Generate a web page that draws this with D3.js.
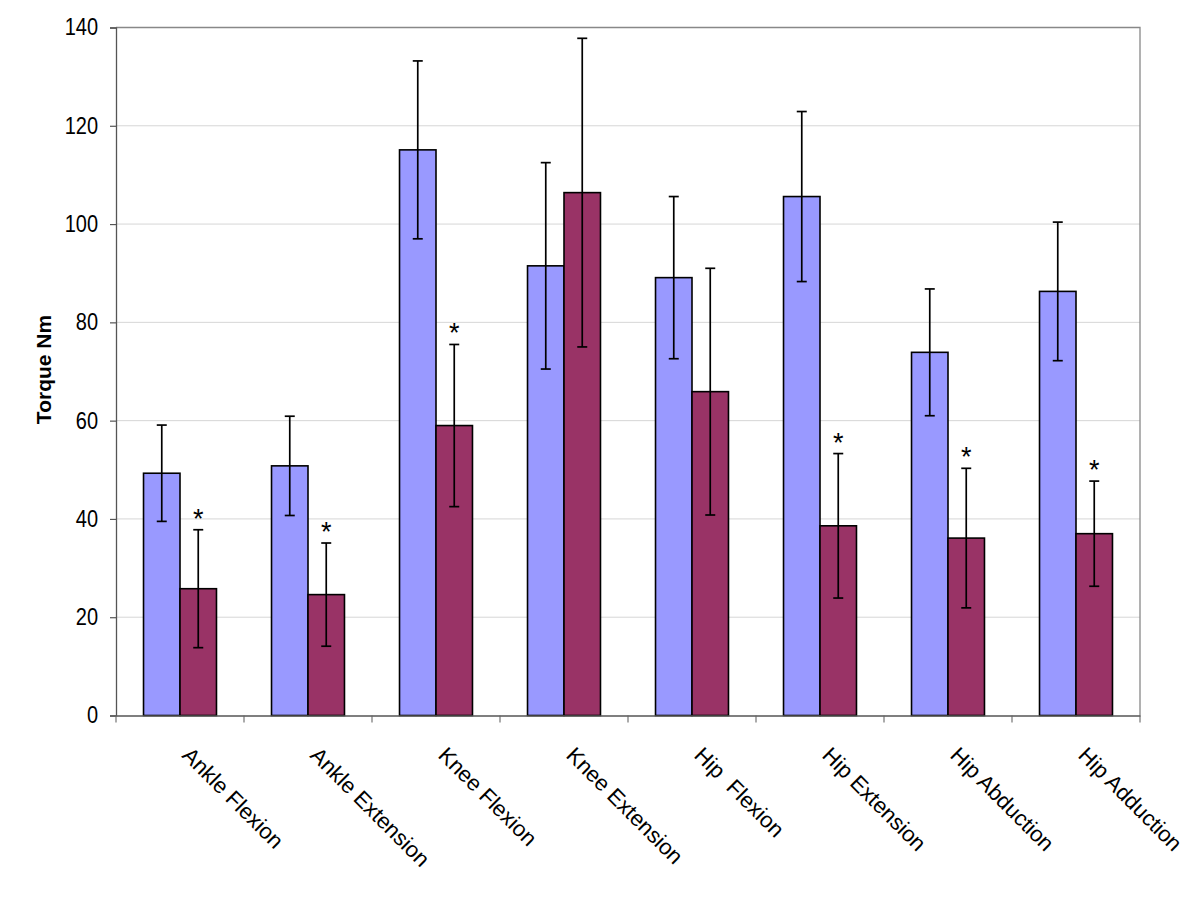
<!DOCTYPE html>
<html lang="en">
<head>
    <meta charset="UTF-8">
    <title>Torque Nm</title>
    <style>
        body { margin: 0; background: #fff; }
        text { font-family: Arial, "Liberation Sans", sans-serif; fill: #000; }
    </style>
    <script src="https://d3js.org/d3.v7.min.js"></script>
</head>
<body>
    <svg width="1200" height="900"></svg>
    <script>
        // values
        const categories = ["Ankle Flexion", "Ankle Extension", "Knee Flexion", "Knee Extension",
                            "Hip  Flexion", "Hip Extension", "Hip Abduction", "Hip Adduction"];
        const series = ["control", "patient"];
        const controlMean = [49.3, 50.8, 115.1, 91.5, 89.1, 105.6, 73.9, 86.3];
        const controlSD   = [9.8, 10.1, 18.1, 21.0, 16.5, 17.3, 12.9, 14.1];
        const patientMean = [25.8, 24.6, 59.0, 106.4, 65.9, 38.6, 36.1, 37.0];
        const patientSD   = [12.0, 10.5, 16.5, 31.4, 25.1, 14.7, 14.2, 10.7];
        const significant = [true, true, true, false, false, true, true, true];
        const yTicks = [0, 20, 40, 60, 80, 100, 120, 140];

        const colors = { control: "#9999ff", patient: "#993366" };

        const svg = d3.select("svg");
        const plotLeft = 116, plotRight = 1140, plotTop = 27.5, plotBottom = 715.5;

        const x0 = d3.scaleBand().domain(categories).range([plotLeft, plotRight]);
        const bw = x0.bandwidth();
        const x1 = d3.scaleBand().domain(series).range([bw * 0.215, bw * 0.785]);
        const y = d3.scaleLinear().domain([0, 140]).range([plotBottom, plotTop]);

        // gridlines
        svg.append("g")
            .selectAll("line")
            .data(yTicks.filter(d => d > 0 && d < 140))
            .enter()
            .append("line")
            .attr("x1", plotLeft).attr("x2", plotRight)
            .attr("y1", d => y(d)).attr("y2", d => y(d))
            .attr("stroke", "#d6d6d6")
            .attr("stroke-width", 1);

        // plot area border (top & right)
        svg.append("path")
            .attr("d", `M${plotLeft},${plotTop}H${plotRight}V${plotBottom}`)
            .attr("fill", "none")
            .attr("stroke", "#888")
            .attr("stroke-width", 1.3);

        // rows of bar data
        const rows = categories.map((c, i) => ({
            cat: c,
            sig: significant[i],
            bars: [
                { key: "control", mean: controlMean[i], sd: controlSD[i] },
                { key: "patient", mean: patientMean[i], sd: patientSD[i] }
            ]
        }));

        const groups = svg.selectAll(".grp")
            .data(rows)
            .enter()
            .append("g")
            .attr("class", "grp")
            .attr("transform", d => `translate(${x0(d.cat)},0)`);

        groups.selectAll("rect")
            .data(d => d.bars)
            .enter()
            .append("rect")
            .attr("x", d => x1(d.key))
            .attr("y", d => y(d.mean))
            .attr("width", x1.bandwidth())
            .attr("height", d => y(0) - y(d.mean))
            .attr("fill", d => colors[d.key])
            .attr("stroke", "#000")
            .attr("stroke-width", 1.6);

        // error bars
        const cap = 5;
        const err = groups.selectAll(".err")
            .data(d => d.bars)
            .enter()
            .append("g")
            .attr("class", "err")
            .attr("stroke", "#000")
            .attr("stroke-width", 1.7);
        const cx = d => x1(d.key) + x1.bandwidth() / 2;
        err.append("line")
            .attr("x1", cx).attr("x2", cx)
            .attr("y1", d => y(d.mean + d.sd))
            .attr("y2", d => y(d.mean - d.sd));
        err.append("line")
            .attr("x1", d => cx(d) - cap).attr("x2", d => cx(d) + cap)
            .attr("y1", d => y(d.mean + d.sd)).attr("y2", d => y(d.mean + d.sd));
        err.append("line")
            .attr("x1", d => cx(d) - cap).attr("x2", d => cx(d) + cap)
            .attr("y1", d => y(d.mean - d.sd)).attr("y2", d => y(d.mean - d.sd));

        // significance stars
        groups.filter(d => d.sig)
            .append("text")
            .attr("x", d => cx(d.bars[1]))
            .attr("y", d => y(d.bars[1].mean + d.bars[1].sd) - 2)
            .attr("text-anchor", "middle")
            .style("font-size", "27px")
            .text("*");

        // y axis
        const yAxis = svg.append("g")
            .attr("transform", `translate(${plotLeft},0)`)
            .call(d3.axisLeft(y).tickValues(yTicks).tickSize(6).tickPadding(12));
        yAxis.select(".domain").attr("stroke", "#555").attr("stroke-width", 1.3);
        yAxis.selectAll(".tick line").attr("stroke", "#555").attr("stroke-width", 1.2);
        yAxis.selectAll("text")
            .attr("transform", "scale(1,1.16)")
            .style("font-size", "20px")
            .style("font-family", "Arial, 'Liberation Sans', sans-serif")
            .attr("fill", "#000");

        // x axis
        const xAxis = svg.append("g")
            .attr("transform", `translate(0,${plotBottom})`)
            .call(d3.axisBottom(x0).tickSize(0).tickFormat(""));
        xAxis.select(".domain").attr("stroke", "#555").attr("stroke-width", 1.3);
        xAxis.selectAll(".tick").remove();

        // boundary ticks between categories
        const bounds = categories.map(c => x0(c)).concat([plotRight]);
        svg.append("g")
            .selectAll("line")
            .data(bounds)
            .enter()
            .append("line")
            .attr("x1", d => d).attr("x2", d => d)
            .attr("y1", plotBottom).attr("y2", plotBottom + 7)
            .attr("stroke", "#666")
            .attr("stroke-width", 1.1);

        // rotated category labels
        svg.append("g")
            .selectAll("text")
            .data(categories)
            .enter()
            .append("text")
            .attr("transform", d => `translate(${x0(d) + bw / 2 + 1},${plotBottom + 41}) rotate(45)`)
            .attr("text-anchor", "start")
            .style("font-size", "22px")
            .style("white-space", "pre")
            .text(d => d);

        // y title
        svg.append("text")
            .attr("transform", `translate(51,${(plotTop + plotBottom) / 2 - 2}) rotate(-90)`)
            .attr("text-anchor", "middle")
            .style("font-size", "21px")
            .style("font-weight", "bold")
            .text("Torque Nm");
    </script>
</body>
</html>
